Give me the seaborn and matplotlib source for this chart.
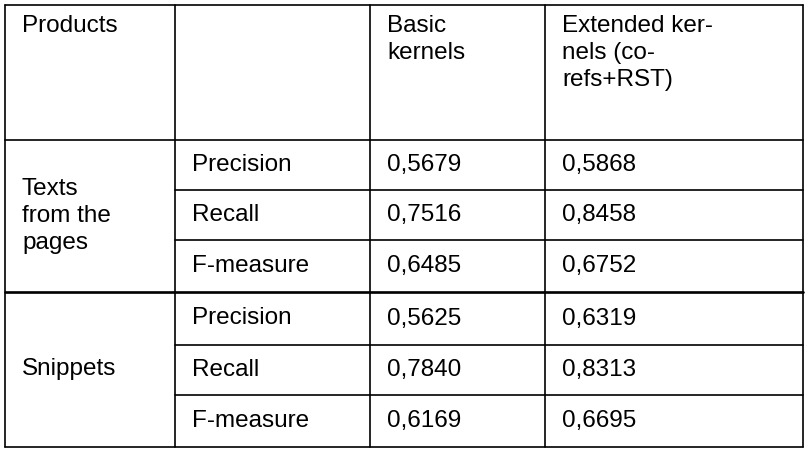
import matplotlib
matplotlib.use("Agg")
import matplotlib.pyplot as plt
import seaborn as sns

sns.set_style("white")
plt.rcParams['font.family'] = ['Liberation Sans', 'DejaVu Sans']

header = ["Products", "", "Basic\nkernels", "Extended ker-\nnels (co-\nrefs+RST)"]
groups = ["Texts\nfrom the\npages", "Snippets"]
metrics = ["Precision", "Recall", "F-measure"]
basic = [["0,5679", "0,7516", "0,6485"], ["0,5625", "0,7840", "0,6169"]]
extended = [["0,5868", "0,8458", "0,6752"], ["0,6319", "0,8313", "0,6695"]]

col_x = [5, 175, 370, 545, 803]
row_y = [5, 140, 190, 240, 292, 345, 395, 447]

fig = plt.figure(figsize=(8.08, 4.53), dpi=100)
ax = fig.add_axes([0, 0, 1, 1])
ax.set_xlim(0, 808)
ax.set_ylim(453, 0)
ax.axis("off")

lw = 1.2
for x in col_x:
    ax.plot([x, x], [row_y[0], row_y[-1]], color="black", lw=lw)
for i, y in enumerate(row_y):
    if i in (0, 1, 4, 7):
        ax.plot([col_x[0], col_x[-1]], [y, y], color="black", lw=lw * (1.6 if i == 4 else 1))
    else:
        ax.plot([col_x[1], col_x[-1]], [y, y], color="black", lw=lw)

fs = 17.5
pad = 17
kw = dict(fontsize=fs, ha="left", color="black", linespacing=1.3)
for j, h in enumerate(header):
    ax.text(col_x[j] + pad, row_y[0] + 10, h, va="top", **kw)

for g, name in enumerate(groups):
    top, bot = row_y[1 + 3 * g], row_y[4 + 3 * g]
    ax.text(col_x[0] + pad, (top + bot) / 2, name, va="center", **kw)
    for r in range(3):
        yc = (row_y[1 + 3 * g + r] + row_y[2 + 3 * g + r]) / 2
        ax.text(col_x[1] + pad, yc, metrics[r], va="center", **kw)
        ax.text(col_x[2] + pad, yc, basic[g][r], va="center", **kw)
        ax.text(col_x[3] + pad, yc, extended[g][r], va="center", **kw)

fig.savefig("out.png", dpi=100)
